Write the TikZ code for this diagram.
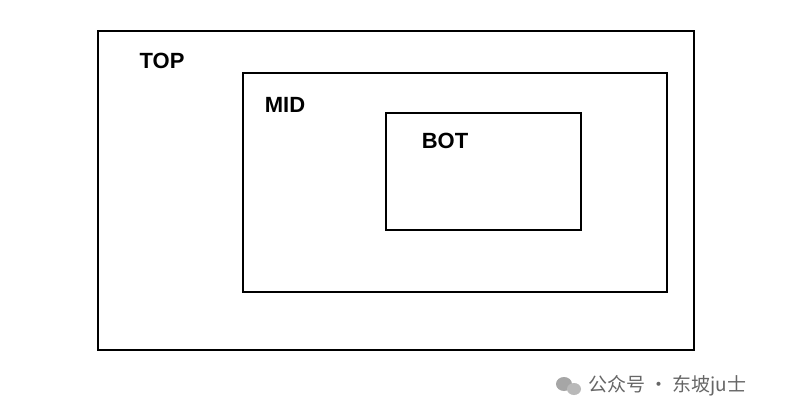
\documentclass[tikz,border=0pt]{standalone}
\usepackage{fontspec}
\setmainfont{Liberation Sans}
\newfontfamily\cjk{Noto Sans CJK SC}
\begin{document}
\begin{tikzpicture}[x=1pt,y=-1pt,
  box/.style={draw,line width=1.5pt},
  lbl/.style={font=\bfseries\fontsize{22}{24}\selectfont}]
\useasboundingbox[fill=white] (0,0) rectangle (791,419);
\draw[box] (98,31) rectangle (694,350);
\draw[box] (243,73) rectangle (667,292);
\draw[box] (386,113) rectangle (581,230);
\node[lbl] (top) at (162,61) {TOP};
\node[lbl] (mid) at (285,105) {MID};
\node[lbl] (bot) at (445,141) {BOT};
\fill[gray!70] (564,384) ellipse (8 and 7);
\fill[gray!55] (574,389) ellipse (7 and 6);
\node[anchor=west,text=gray!80!black,font=\cjk\fontsize{19}{21}\selectfont,inner sep=0pt] (wm) at (588,386) {公众号 · 东坡ju士};
\end{tikzpicture}
\end{document}
